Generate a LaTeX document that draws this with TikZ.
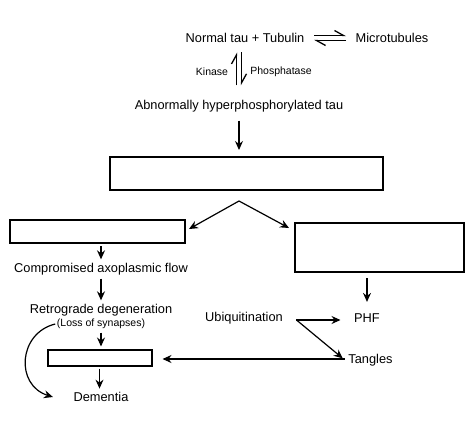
\documentclass[tikz,border=0pt]{standalone}
\usepackage{fontspec}
\setmainfont{Liberation Sans}
\usepackage{tikz}
\usetikzlibrary{positioning}
\usetikzlibrary{arrows.meta}
\usetikzlibrary{calc}
\tikzstyle{txt}=[inner sep=1.5pt,font=\fontsize{12.8}{15}\selectfont]
\tikzstyle{smalltxt}=[inner sep=1.5pt,font=\fontsize{10.5}{12}\selectfont]
\tikzstyle{emptybox}=[rectangle,draw,line width=2pt,fill=white,inner sep=0pt]
\tikzstyle{edge} = [draw,line width=1.2pt,-{Stealth[length=9pt,width=8pt,inset=3pt]},shorten <=2pt,shorten >=2pt]
\tikzstyle{harpoon} = [draw,line width=1.3pt,-{Straight Barb[left,length=9pt,width=10pt]}]

\begin{document}
\begin{tikzpicture}[x=1pt,y=-1pt]

 \useasboundingbox (0,0) rectangle (474,424);

 %Top: tau and tubulin
 \foreach \x/\y/\name/\label in {245/38/tubulin/Normal tau + Tubulin, 392/38/micro/Microtubules, 239/106/abnormal/Abnormally hyperphosphorylated tau}
        \node[txt] (\name) at (\x,\y) {\label};

 \foreach \x/\y/\name/\label in {212/72/kinase/Kinase, 281/72/phosphatase/Phosphatase}
        \node[smalltxt] (\name) at (\x,\y) {\label};

 \path[harpoon] ([xshift=8pt,yshift=2.5pt]tubulin.east) -- ([xshift=-8pt,yshift=2.5pt]micro.west);
 \path[harpoon] ([xshift=-8pt,yshift=-2.5pt]micro.west) -- ([xshift=8pt,yshift=-2.5pt]tubulin.east);

 \path[harpoon] ([xshift=-2.5pt,yshift=13pt]abnormal.north) -- ([xshift=-2.5pt,yshift=-8pt]abnormal.north |- tubulin.south);
 \path[harpoon] ([xshift=2.5pt,yshift=-8pt]abnormal.north |- tubulin.south) -- ([xshift=2.5pt,yshift=13pt]abnormal.north);

 %Boxes
 \foreach \x/\y/\name/\w/\h in {246.5/173.5/bigbox/273/33, 97.5/231.5/leftbox/175/23, 379.5/247.5/rightbox/169/49, 99.5/357.5/smallbox/104/16}
        \node[emptybox,minimum width=\w pt,minimum height=\h pt] (\name) at (\x,\y) {};

 \path[edge,shorten <=7pt] (abnormal) -- ([yshift=4pt]abnormal.south |- bigbox.north);

 %Fork
 \coordinate (fork) at (239,201);
 \path[edge,shorten <=0pt,shorten >=0pt] (fork) -- ([xshift=3pt,yshift=2.5pt]leftbox.east);
 \path[edge,shorten <=0pt,shorten >=0pt] (fork) -- ([xshift=-5pt,yshift=-6pt]rightbox.north west);

 %Left column
 \foreach \x/\y/\name/\label in {101/269/flow/Compromised axoplasmic flow, 101/310/retro/Retrograde degeneration, 101/397/dementia/Dementia}
        \node[txt] (\name) at (\x,\y) {\label};
 \node[smalltxt] (loss) at (101,324) {(Loss of synapses)};

 \foreach \source/ \dest in {flow/retro, loss/smallbox, smallbox/dementia}
        \path[edge] (\source) -- (\source |- \dest.north);
 \path[edge] (flow |- leftbox.south) -- (flow.north);

 \draw[edge,shorten <=0pt,shorten >=0pt] (loss.west) .. controls +(-37,9) and ($(dementia.west)+(-57,-12)$) .. ([xshift=-19pt]dementia.west);

 %Right column
 \foreach \x/\y/\name/\label in {367/318/phf/PHF, 244/318/ubiq/Ubiquitination, 370.5/360/tangles/Tangles}
        \node[txt] (\name) at (\x,\y) {\label};

 \path[edge,shorten <=5pt,shorten >=10pt] (phf |- rightbox.south) -- (phf.north);

 \coordinate (ub) at ([xshift=12pt,yshift=-2pt]ubiq.east);
 \path[edge,shorten <=0pt,shorten >=12pt] (ub) -- (ub -| phf.west);
 \path[edge,shorten <=0pt,shorten >=0pt] (ub) -- ([xshift=-4pt,yshift=-6pt]tangles.north west);

 \path[edge,shorten >=10pt] ([yshift=1pt]tangles.west) -- ([yshift=1pt]tangles.west -| smallbox.east);

\end{tikzpicture}
\end{document}
